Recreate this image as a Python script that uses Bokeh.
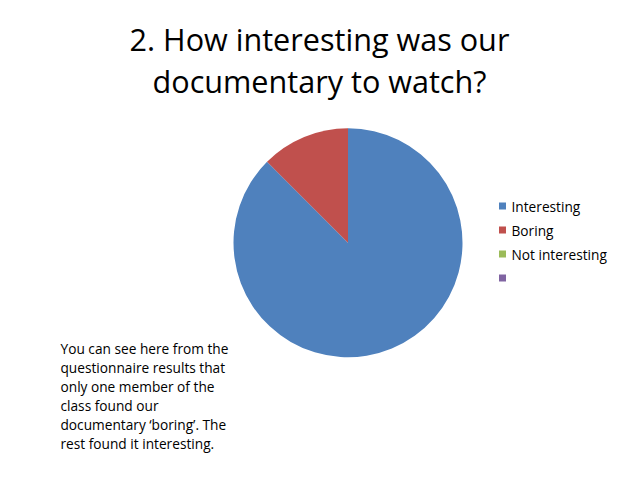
import numpy as np
from bokeh.plotting import figure
from bokeh.models import ColumnDataSource, Range1d
from bokeh.core.properties import value
from bokeh.embed import file_html
from bokeh.resources import INLINE

# ---- data ----
categories = ["Interesting", "Boring", "Not interesting", ""]
counts = [7, 1, 0, 0]
colors = ["#4F81BD", "#C0504D", "#9BBB59", "#8064A2"]
title_lines = ["2. How interesting was our", "documentary to watch?"]
note_lines = [
    "You can see here from the",
    "questionnaire results that",
    "only one member of the",
    "class found our",
    "documentary \u2018boring\u2019. The",
    "rest found it interesting.",
]

W, H = 622, 462
FONT = "Open Sans"

p = figure(width=W, height=H, output_backend="svg", toolbar_location=None,
           x_range=Range1d(0, W), y_range=Range1d(0, H), min_border=0,
           outline_line_color=None, background_fill_color="white",
           border_fill_color="white")
p.axis.visible = False
p.grid.visible = False

# ---- pie (starts at 12 o'clock, clockwise) ----
total = float(sum(counts))
frac = np.array(counts) / total
cum = np.concatenate([[0.0], np.cumsum(frac)])
start = np.pi / 2 - cum[:-1] * 2 * np.pi
end = np.pi / 2 - cum[1:] * 2 * np.pi
keep = frac > 0
pie_src = ColumnDataSource(dict(start=start[keep], end=end[keep],
                                color=[c for c, k in zip(colors, keep) if k]))
cx, cy = 347.5, H - 242.3
p.wedge(x=cx, y=cy, radius=114.5, radius_units="screen",
        start_angle="start", end_angle="end", direction="clock",
        fill_color="color", line_color=None, source=pie_src)

# ---- legend (manual) ----
lx, ly0, lstep = 502, H - 205.5, 24
ly = [ly0 - i * lstep for i in range(len(categories))]
leg_src = ColumnDataSource(dict(x=[lx] * len(categories), y=ly,
                                tx=[lx + 9] * len(categories),
                                label=categories, color=colors))
p.rect(x="x", y="y", width=7, height=7, width_units="screen",
       height_units="screen", fill_color="color", line_color=None, source=leg_src)
p.text(x="tx", y="y", text="label", source=leg_src, text_font=value(FONT),
       text_font_size="13.7px", text_color="#000000", text_baseline="middle",
       text_align="left")

# ---- title ----
t_y = [H - 38.5, H - 80.5]
p.text(x=[319] * 2, y=t_y, text=title_lines, text_font=value(FONT),
       text_font_size="30.6px", text_color="#000000", text_baseline="alphabetic",
       text_align="center")

# ---- note ----
n_y = [H - (348.3 + i * 18.9) for i in range(len(note_lines))]
p.text(x=[60] * len(note_lines), y=n_y, text=note_lines, text_font=value(FONT),
       text_font_size="13.7px", text_color="#000000", text_baseline="alphabetic",
       text_align="left")

open("out.html", "w").write(file_html(p, INLINE))
